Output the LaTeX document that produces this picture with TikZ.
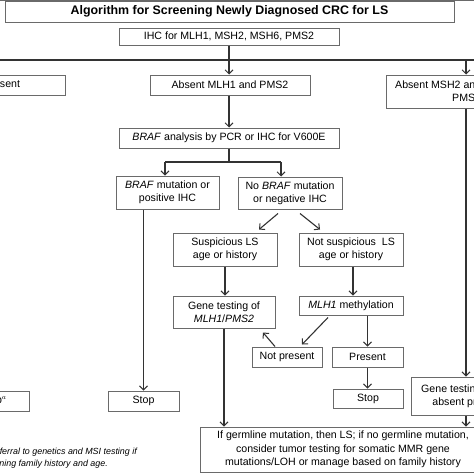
\documentclass[tikz,border=0pt]{standalone}
\usepackage{fontspec}
\setmainfont{Liberation Sans}
\usetikzlibrary{arrows.meta,calc}
\definecolor{boxgray}{HTML}{6A6A6A}
\definecolor{linegray}{HTML}{333333}
\tikzset{
  box/.style={draw=boxgray, line width=1pt, inner sep=0pt, align=center,
    text=black, font=\fontsize{10.6}{12.7}\selectfont},
  ln/.style={draw=linegray, line width=1.1pt},
  arr/.style={ln, -{Straight Barb[length=4pt,width=8pt,line width=1pt]}},
  lbl/.style={inner sep=0pt, text=black, font=\fontsize{10.6}{12.7}\selectfont},
  foot/.style={inner sep=0pt, text=black, align=left, font=\fontsize{8.9}{12}\selectfont\itshape}
}
\begin{document}
\begin{tikzpicture}[x=1pt,y=-1pt]
\useasboundingbox (0,0) rectangle (474,474);
\clip (0,0) rectangle (474,474);
\draw[draw=boxgray, line width=1pt] (-5,0.5) -- (480,0.5);
% boxes
\node[box, font=\fontsize{12.4}{14}\selectfont\bfseries, minimum width=449pt, minimum height=21pt] (title) at (229.5,11.5) {Algorithm for Screening Newly Diagnosed CRC for LS};
\node[box, minimum width=220pt, minimum height=17pt] (ihc) at (229,36.5) {IHC for MLH1, MSH2, MSH6, PMS2};
\node[box, minimum width=140pt, minimum height=20pt] (allp) at (-5,85) {All present};
\node[box, minimum width=160pt, minimum height=20pt] (mlh1) at (230,85) {Absent MLH1 and PMS2};
\node[box, minimum width=160pt, minimum height=33pt] (msh2) at (466,91.5) {};
\node[lbl, anchor=base west] (msh2a) at (395,88) {Absent MSH2 and};
\node[lbl, anchor=base west] (msh2b) at (452,101) {PMS2};
\node[box, minimum width=220pt, minimum height=20pt] (braf) at (229,138) {\textit{BRAF} analysis by PCR or IHC for V600E};
\node[box, minimum width=103pt, minimum height=33pt] (brafmut) at (167.5,192.5) {\textit{BRAF} mutation or\\positive IHC};
\node[box, minimum width=104pt, minimum height=32pt] (nobraf) at (290,193) {No \textit{BRAF} mutation\\or negative IHC};
\node[box, minimum width=104pt, minimum height=33pt] (susp) at (225,249.5) {Suspicious LS\\age or history};
\node[box, minimum width=104pt, minimum height=33pt] (notsusp) at (351,249.5) {Not suspicious\ \ LS\\age or history};
\node[box, minimum width=102pt, minimum height=32pt] (genetest) at (224,312) {Gene testing of\\\textit{MLH1}/\textit{PMS2}};
\node[box, minimum width=104pt, minimum height=19pt] (methyl) at (351,305.5) {\textit{MLH1} methylation};
\node[box, minimum width=70pt, minimum height=20pt] (notpres) at (287,357) {Not present};
\node[box, minimum width=71pt, minimum height=20pt] (pres) at (367.5,357) {Present};
\node[box, minimum width=71pt, minimum height=20pt] (stopa) at (-6.5,401) {Stop$^{a}$};
\node[box, minimum width=71pt, minimum height=20pt] (stopb) at (143.5,401) {Stop};
\node[box, minimum width=70pt, minimum height=19pt] (stopc) at (368,398.5) {Stop};
\node[box, minimum width=110pt, minimum height=38pt] (gene2) at (466,396) {Gene testing of the\\absent protein};
\node[box, minimum width=286pt, minimum height=45pt, font=\fontsize{10.6}{13.5}\selectfont] (bottom) at (343,449.5) {If germline mutation, then LS; if no germline mutation,\\consider tumor testing for somatic MMR gene\\mutations/LOH or manage based on family history};
\node[foot, anchor=base east] (fn1) at (137,454) {$^{a}$Consider referral to genetics and MSI testing if};
\node[foot, anchor=base east] (fn2) at (108,466) {concerning family history and age.};
% connectors
\coordinate (hl) at (-20,60);
\coordinate (hr) at (490,60);
\coordinate (hm) at (229,60);
\draw[ln] (ihc.south) -- (hm);
\draw[ln] (hl) -- (hr);
\draw[arr] (allp.north |- hm) -- (allp.north);
\draw[arr] (hm) -- (hm |- mlh1.north);
\draw[arr] (msh2.north |- hm) -- (msh2.north);
\draw[arr] (mlh1.south -| hm) -- (braf.north -| hm);
\coordinate (bm) at (229,162);
\coordinate (bl) at (165,162);
\coordinate (br) at (281,162);
\draw[ln] (braf.south -| bm) -- (bm);
\draw[ln] (bl) -- (br);
\draw[arr] (bl) -- (bl |- brafmut.north);
\draw[arr] (br) -- (br |- nobraf.north);
\draw[arr] ([xshift=-12pt,yshift=-4pt]nobraf.south) -- ([xshift=34pt,yshift=3pt]susp.north);
\draw[arr] ([xshift=10pt,yshift=-4pt]nobraf.south) -- ([xshift=-31pt,yshift=3pt]notsusp.north);
\draw[arr] (stopb.north |- brafmut.south) -- (stopb.north);
\draw[arr] (susp.south) -- (susp.south |- genetest.north);
\draw[arr] ([xshift=2pt]notsusp.south) -- ([xshift=2pt]methyl.north);
\draw[arr] ([xshift=-23pt,yshift=-2pt]methyl.south) -- ([xshift=15pt,yshift=2pt]notpres.north);
\draw[arr] (pres.north |- methyl.south) -- (pres.north);
\draw[arr] ([xshift=-12pt]notpres.north) -- ([xshift=39pt,yshift=-4pt]genetest.south);
\draw[arr] (pres.south) -- (pres.south |- stopc.north);
\draw[arr] (genetest.south) -- (genetest.south |- bottom.north);
\draw[arr] (msh2.south) -- (gene2.north);
\draw[arr] (gene2.south) -- (gene2.south |- bottom.north);
\draw[arr] (allp.south) -- (stopa.north);
\end{tikzpicture}
\end{document}
